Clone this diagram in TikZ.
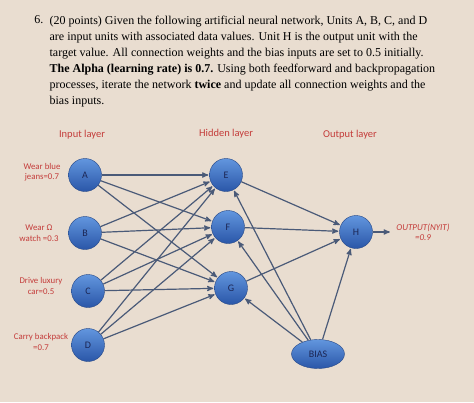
\documentclass[tikz,border=0pt]{standalone}
\usepackage{fontspec}
\setmainfont{Liberation Serif}
\newfontfamily\labelfont{Carlito}
\usetikzlibrary{arrows,shapes.geometric}
\definecolor{paper}{RGB}{233,221,208}
\definecolor{wire}{RGB}{74,90,120}
\definecolor{unitlight}{RGB}{98,150,222}
\definecolor{unitdark}{RGB}{42,86,168}
\definecolor{labelred}{RGB}{196,60,58}
\definecolor{letterblue}{RGB}{28,38,84}

\begin{document}
\begin{tikzpicture}[x=1pt,y=1pt,->,>=stealth',shorten >=1pt,node distance=58pt,
        line width=1.2pt,draw=wire,
        unit/.style={circle,minimum size=33pt,inner sep=0pt,top color=unitlight,
          bottom color=unitdark,draw=unitdark!80!black,line width=0.4pt,
          font=\labelfont\fontsize{10}{12}\selectfont,text=letterblue},
        biasunit/.style={unit,ellipse,minimum width=53pt,minimum height=29pt},
        layername/.style={font=\labelfont\fontsize{10.5}{12}\selectfont,text=labelred},
        datalabel/.style={font=\labelfont\fontsize{8.8}{10.5}\selectfont,text=labelred,
          align=center,inner sep=1pt}]

  \path[use as bounding box,fill=paper,-] (0,0) rectangle (474,-402);

  % question text
  \node[anchor=north east,inner sep=0pt,font=\fontsize{12}{16}\selectfont] (num) at (44,-15) {6.};
  \node[anchor=north west,inner sep=0pt,align=left,font=\fontsize{12}{16}\selectfont] (question) at (49,-15)
    {(20 points) Given the following artificial neural network, Units A, B, C, and D\\
     are input units with associated data values. Unit H is the output unit with the\\
     target value. All connection weights and the bias inputs are set to 0.5 initially.\\
     \textbf{The Alpha (learning rate) is 0.7.} Using both feedforward and backpropagation\\
     processes, iterate the network \textbf{twice} and update all connection weights and the\\
     bias inputs.};

  % units
  \node[unit] (A) at (85,-175) {A};
  \node[unit] (B) [below of=A] {B};
  \node[unit] (C) [below of=B, xshift=3pt] {C};
  \node[unit] (D) [below of=C, node distance=54pt] {D};
  \node[unit] (E) [right of=A, node distance=141pt] {E};
  \node[unit] (F) [below of=E, node distance=52pt, xshift=2pt] {F};
  \node[unit] (G) [below of=F, node distance=61pt, xshift=3pt] {G};
  \node[unit] (H) [right of=F, node distance=128pt, yshift=-5pt] {H};
  \node[biasunit] (bias) at (318,-354) {BIAS};

  % layer names and data values
  \node[layername] (inlayer)  [above of=A, node distance=40pt, xshift=-3pt] {Input layer};
  \node[layername] (hidlayer) [above of=E, node distance=41pt] {Hidden layer};
  \node[layername] (outlayer) [above of=H, node distance=97pt, xshift=-6pt] {Output layer};
  \node[datalabel] (jeans)    [left of=A, node distance=43pt, yshift=3pt] {Wear blue\\jeans=0.7};
  \node[datalabel] (watch)    [left of=B, node distance=46pt] {Wear Ω\\watch =0.3};
  \node[datalabel] (car)      [left of=C, node distance=47pt, yshift=5pt] {Drive luxury\\car=0.5};
  \node[datalabel] (backpack) [left of=D, node distance=47pt, yshift=3pt] {Carry backpack\\=0.7};
  \node[datalabel,font=\labelfont\itshape\fontsize{9}{10.5}\selectfont] (target)
    [right of=H, node distance=67pt] {OUTPUT(NYIT)\\=0.9};

  \path (A) edge (E)
        (A) edge (F)
        (A) edge (G)
        (B) edge (E)
        (B) edge (F)
        (B) edge (G)
        (C) edge (E)
        (C) edge (F)
        (C) edge (G)
        (D) edge (E)
        (D) edge (F)
        (D) edge (G)
        (E) edge (H)
        (F) edge (H)
        (G) edge (H)
        (bias) edge (E)
        (bias) edge (F)
        (bias) edge (G)
        (bias) edge (H)
        (H) edge [shorten >=5pt] (target);

\end{tikzpicture}
\end{document}
